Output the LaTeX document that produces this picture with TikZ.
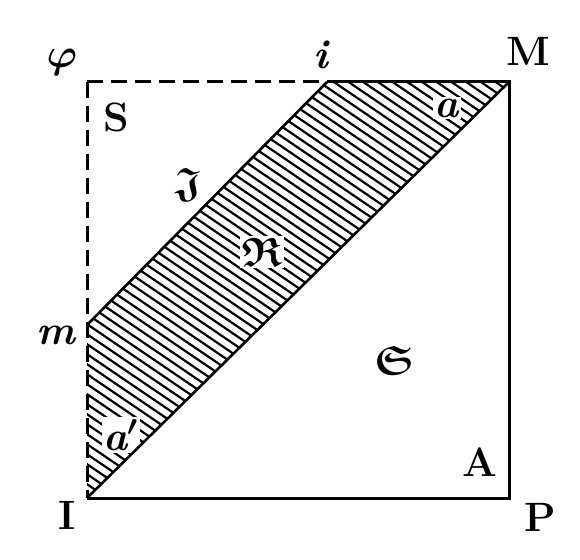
\documentclass[tikz,border=0pt]{standalone}
\usepackage{amssymb}
\DeclareFontFamily{OML}{cmm}{\skewchar\font'177}
\DeclareFontShape{OML}{cmm}{m}{it}{<->cmmi10}{}
\DeclareFontShape{OML}{cmm}{b}{it}{<->cmmib10}{}
\DeclareFontFamily{OT1}{cmr}{}
\DeclareFontShape{OT1}{cmr}{m}{n}{<->cmr10}{}
\DeclareFontShape{OT1}{cmr}{bx}{n}{<->cmbx10}{}
\DeclareFontFamily{OMS}{cmsy}{\skewchar\font'60}
\DeclareFontShape{OMS}{cmsy}{m}{n}{<->cmsy10}{}
\DeclareFontShape{OMS}{cmsy}{b}{n}{<->cmbsy10}{}
\DeclareFontFamily{U}{euf}{}
\DeclareFontShape{U}{euf}{m}{n}{<->eufm10}{}
\DeclareFontShape{U}{euf}{b}{n}{<->eufb10}{}
\begin{document}
\begin{tikzpicture}[x=1pt,y=-1pt,
  lab/.style={font=\fontsize{41}{48}\selectfont\bfseries\boldmath, inner sep=1pt},
  hatchlab/.style={lab, fill=white, inner sep=2pt},
  edgeline/.style={line width=3pt, line join=miter},
  dashedge/.style={line width=3pt, dash pattern=on 16pt off 8pt},
  diag/.style={line width=2.6pt},
  hatchline/.style={line width=2.2pt}]
\useasboundingbox (0,0) rectangle (580,559);
\coordinate (phi) at (87,82);
\coordinate (M) at (509,82);
\coordinate (P) at (509,498);
\coordinate (I) at (87,498);
\coordinate (m) at (87,325);
\coordinate (i) at (327,82);
\begin{scope}
  \clip (I) -- (m) -- (i) -- (M) -- cycle;
  \foreach \c in {-275,-265,...,450} \draw[hatchline] (0,\c) -- ++(600,408);
\end{scope}
\node[lab] (lphi) at (62,62) {$\varphi$};
\node[lab] (li) at (321,55) {\itshape i};
\node[lab] (lM) at (528,51) {M};
\node[lab] (lS) at (116,117) {S};
\node[lab] (lJ) at (188,185) {$\mathfrak{J}$};
\node[hatchlab] (lR) at (262,252) {$\mathfrak{R}$};
\node[lab] (lm) at (56,335) {\itshape m};
\node[hatchlab] (la) at (447,108) {\itshape a};
\node[hatchlab] (la2) at (121,435) {\itshape a$'$};
\node[lab] (lS2) at (394,360) {$\mathfrak{S}$};
\node[lab] (lA) at (480,462) {A};
\node[lab] (lP) at (540,517) {P};
\node[lab] (lI) at (67,515) {I};
\draw[dashedge] (phi) -- (i);
\draw[dashedge] (phi) -- (I);
\draw[edgeline] (i) -- (M) -- (P) -- (I);
\draw[diag] (I) -- (M);
\draw[diag] (m) -- (i);
\end{tikzpicture}
\end{document}
